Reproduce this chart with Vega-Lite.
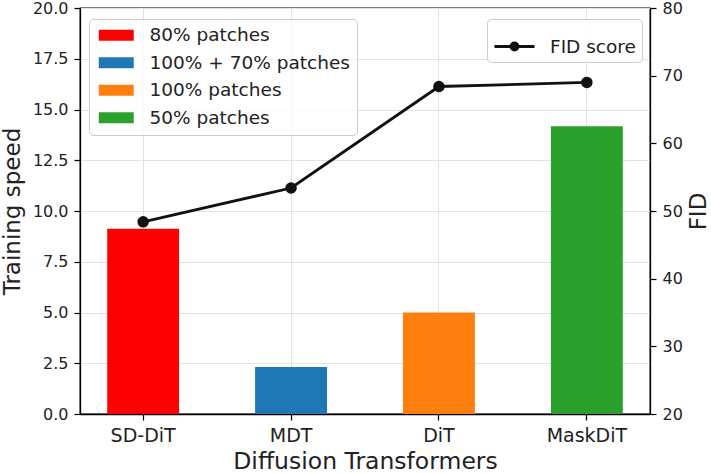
{
  "$schema": "https://vega.github.io/schema/vega-lite/v6.json",
  "width": 570,
  "height": 406,
  "autosize": {"type": "none"},
  "padding": {"left": 80, "top": 8, "right": 61, "bottom": 59},
  "config": {
    "font": "DejaVu Sans",
    "view": {"stroke": "black", "strokeWidth": 1.3},
    "axis": {
      "labelFont": "DejaVu Sans",
      "titleFont": "DejaVu Sans",
      "labelColor": "#222",
      "titleColor": "#222",
      "titleFontWeight": "normal",
      "domainColor": "black",
      "tickColor": "black",
      "tickSize": 6,
      "domainWidth": 1.3,
      "tickWidth": 1.2,
      "gridColor": "#e3e3e3",
      "gridWidth": 1
    },
    "legend": {"labelFont": "DejaVu Sans", "labelColor": "#222", "labelLimit": 400}
  },
  "data": {
    "values": [
      {"model": "SD-DiT", "speed": 9.13, "fid": 48.4, "patches": "80% patches"},
      {"model": "MDT", "speed": 2.32, "fid": 53.4, "patches": "100% + 70% patches"},
      {"model": "DiT", "speed": 5.0, "fid": 68.4, "patches": "100% patches"},
      {"model": "MaskDiT", "speed": 14.17, "fid": 69.0, "patches": "50% patches"}
    ]
  },
  "encoding": {
    "x": {
      "field": "model",
      "type": "nominal",
      "sort": null,
      "scale": {"paddingInner": 0.514, "paddingOuter": 0.184},
      "axis": {
        "title": "Diffusion Transformers",
        "labelAngle": 0,
        "labelFontSize": 19,
        "titleFontSize": 23.5,
        "grid": true,
        "bandPosition": 0.5,
        "labelPadding": 6,
        "titlePadding": 4
      }
    }
  },
  "layer": [
    {
      "mark": {"type": "bar"},
      "encoding": {
        "y": {
          "field": "speed",
          "type": "quantitative",
          "scale": {"domain": [0, 20], "nice": false},
          "axis": {
            "title": "Training speed",
            "orient": "left",
            "values": [0, 2.5, 5, 7.5, 10, 12.5, 15, 17.5, 20],
            "format": ".1f",
            "labelFontSize": 16,
            "titleFontSize": 23,
            "grid": true,
            "labelPadding": 6,
            "titlePadding": 8
          }
        },
        "color": {
          "field": "patches",
          "type": "nominal",
          "scale": {
            "domain": ["80% patches", "100% + 70% patches", "100% patches", "50% patches"],
            "range": ["#ff0000", "#1f77b4", "#ff7f0e", "#2ca02c"]
          },
          "legend": {
            "orient": "none",
            "legendX": 9,
            "legendY": 11,
            "title": null,
            "symbolType": "M-3.18,-1H3.18V1H-3.18Z",
            "symbolSize": 121,
            "symbolOffset": 11,
            "symbolStrokeWidth": 0,
            "symbolOpacity": 1,
            "labelFontSize": 18.5,
            "labelOffset": 24,
            "rowPadding": 8.5,
            "padding": 7,
            "strokeColor": "#cccccc",
            "fillColor": "rgba(255,255,255,0.8)",
            "cornerRadius": 4
          }
        }
      }
    },
    {
      "mark": {
        "type": "line",
        "color": "#111",
        "strokeWidth": 2.8,
        "point": {"filled": true, "size": 90, "color": "#111"}
      },
      "encoding": {
        "y": {
          "field": "fid",
          "type": "quantitative",
          "scale": {"domain": [20, 80], "nice": false},
          "axis": {
            "title": "FID",
            "orient": "right",
            "values": [20, 30, 40, 50, 60, 70, 80],
            "labelFontSize": 16,
            "titleFontSize": 23,
            "grid": false,
            "labelPadding": 6,
            "titlePadding": 28,
            "titleAngle": 270
          }
        },
        "stroke": {
          "datum": "FID score",
          "type": "nominal",
          "scale": {"range": ["#111"]},
          "legend": {
            "orient": "none",
            "legendX": 407,
            "legendY": 11,
            "title": null,
            "symbolType": "M-1,0H1M0.17,0A0.17,0.17,0,1,1,-0.17,0A0.17,0.17,0,1,1,0.17,0Z",
            "symbolSize": 1600,
            "symbolStrokeWidth": 3,
            "symbolFillColor": "#111",
            "symbolStrokeColor": "#111",
            "labelFontSize": 18.5,
            "labelOffset": 14,
            "padding": 6,
            "strokeColor": "#cccccc",
            "fillColor": "rgba(255,255,255,0.8)",
            "cornerRadius": 4
          }
        }
      }
    }
  ],
  "resolve": {"scale": {"y": "independent", "color": "independent", "stroke": "independent"}}
}
